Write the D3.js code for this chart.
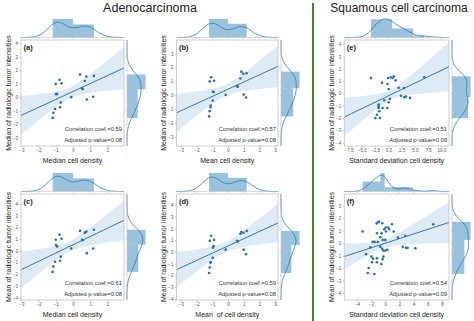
<!DOCTYPE html>
<html>
<head>
<meta charset="utf-8">
<script src="https://cdn.jsdelivr.net/npm/d3@7"></script>
<style>
body { margin: 0; background: #fff; }
text { font-family: "Liberation Sans", Arial, sans-serif; }
</style>
</head>
<body>
<script>
// Adenocarcinoma patients (same order in every array)
var adenoMedianDensity = [0.41, 1.22, 0.78, -0.78, 0.69, -0.66, -1.00, 0.53, 0.57, -0.92, -0.98, 1.18, -0.10, 0.81, -0.71, -0.75, -1.04, -1.14, -1.18];
var adenoMeanDensity = [0.85, 1.19, 0.98, -1.08, 0.79, -0.89, -1.17, 0.57, 0.62, -0.96, -0.92, 1.00, -0.15, 1.15, -0.98, -1.10, -1.12, -1.17, -1.21];
var adenoMedianIntensity = [1.70, 1.59, 1.55, 1.30, 1.21, 1.04, 1.00, 0.67, 0.62, 0.26, 0.24, 0.05, 0.02, -0.16, -0.38, -0.73, -0.86, -1.14, -1.52];
var adenoMeanIntensity = [1.70, 1.80, 1.64, 1.38, 1.55, 1.03, 0.95, 0.95, 0.90, 0.37, 0.50, 0.20, 0.20, -0.20, -0.50, -0.85, -0.93, -1.33, -1.80];

// Squamous cell carcinoma, panel (e)
var sqSdDensityE = [-3.27, -1.19, -0.13, -0.06, 0.44, 0.82, 1.07, 1.38, 0.06, 1.95, 2.96, 6.79, 2.39, 3.02, 3.33, 4.09, 0.31, 0.06, -0.75, -1.82, -1.82, -1.82, -1.07, -0.19, -1.70, -2.14, -2.45, -1.57];
var sqMedianIntensity = [1.26, 0.88, 0.77, 1.26, 1.32, 1.26, 1.40, 1.07, 0.36, 0.47, 0.44, 1.32, -0.19, -0.30, -0.25, -0.36, -0.44, -0.71, -0.55, -0.90, -1.04, -1.18, -1.18, -1.18, -1.45, -1.73, -2.00, -2.00];

// Squamous cell carcinoma, panel (f)
var sqSdDensityF = [-3.20, -1.22, -1.04, -0.42, 0.94, 0.42, 0.05, 0.56, -0.14, 0.09, -1.18, -0.52, 1.18, -0.71, -1.79, -1.51, -1.08, -0.38, 0.00, 1.79, 2.82, 6.78, -2.12, -0.71, -0.28, 0.00, 0.28, 2.45, 2.92, 3.15, 4.24, -2.73, -1.98, -1.74, -1.18, -0.28, -0.38, -1.88, -1.18, -0.56, -2.35, -2.49, -1.55, -0.88, -0.45];
var sqMeanIntensity = [0.94, 1.58, 1.68, 1.60, 1.52, 1.26, 1.26, 1.12, 1.12, 0.94, 0.80, 0.80, 0.94, 0.48, 0.11, 0.11, 0.11, 0.27, 0.27, 0.45, 0.59, 1.52, -0.32, -0.27, -0.59, -0.59, -0.53, -0.29, -0.37, -0.37, -0.40, -0.88, -1.07, -1.23, -1.20, -1.07, -1.28, -1.52, -1.52, -1.66, -1.98, -2.38, -2.46, 1.72, -0.45];

// tick labels
var xTicksMedian = [-3, -2, -1, 0, 1, 2];
var xTicksMean = [-3, -2, -1, 0, 1, 2, 3];
var xTicksSdE = [-7.5, -5, -2.5, 0, 2.5, 5, 7.5, 10];
var xTicksSdF = [-4, -2, 0, 2, 4, 6, 8];
var yTicksA = [-3, -2, -1, 0, 1, 2, 3, 4];
var yTicksB = [-3, -2, -1, 0, 1, 2, 3];
var yTicksLow = [-4, -3, -2, -1, 0, 1, 2, 3, 4];
var yTicksF = [-4, -3, -2, -1, 0, 1, 2, 3];

var coefs = ['0.59', '0.57', '0.61', '0.59', '0.51', '0.54'];
var pvals = ['0.08', '0.08', '0.08', '0.08', '0.09', '0.09'];

var width = 474, height = 321;
var blue = '#1f77b4';

var svg = d3.select('body').append('svg')
	.attr('width', width)
	.attr('height', height);

var cols = [[21, 124], [176.5, 278], [344.3, 449]];
var rows = [[40, 146], [194, 300]];

var panels = [
	{ tag: '(a)', col: 0, row: 0, xs: adenoMedianDensity, ys: adenoMedianIntensity, xDom: [-3.02, 2.97], yDom: [-3.6, 4.25],
		xTicks: xTicksMedian, yTicks: yTicksA, xFmt: 'd', xLabel: 'Median cell density', yLabel: 'Median of radiologic tumor intensities', topCuts: [0], rightCuts: [0.6] },
	{ tag: '(b)', col: 1, row: 0, xs: adenoMeanDensity, ys: adenoMedianIntensity, xDom: [-3.29, 3.19], yDom: [-3.65, 3.98],
		xTicks: xTicksMean, yTicks: yTicksB, xFmt: 'd', xLabel: 'Mean cell density', yLabel: 'Median of radiologic tumor intensities', topCuts: [0], rightCuts: [0.5] },
	{ tag: '(c)', col: 0, row: 1, xs: adenoMedianDensity, ys: adenoMeanIntensity, xDom: [-3.02, 2.97], yDom: [-4.2, 4.85],
		xTicks: xTicksMedian, yTicks: yTicksLow, xFmt: 'd', xLabel: 'Median cell density', yLabel: 'Mean of radiologic tumor intensities', topCuts: [0], rightCuts: [0.53] },
	{ tag: '(d)', col: 1, row: 1, xs: adenoMeanDensity, ys: adenoMeanIntensity, xDom: [-3.29, 3.19], yDom: [-4.1, 4.95],
		xTicks: xTicksMean, yTicks: yTicksLow, xFmt: 'd', xLabel: 'Mean  of cell density', yLabel: 'Mean of radiologic tumor intensities', topCuts: [0], rightCuts: [0.6] },
	{ tag: '(e)', col: 2, row: 0, xs: sqSdDensityE, ys: sqMedianIntensity, xDom: [-8.3, 11.45], yDom: [-4.27, 4.35],
		xTicks: xTicksSdE, yTicks: yTicksLow, xFmt: '.1f', xLabel: 'Standard deviation cell density', yLabel: 'Median of radiologic tumor intensities', topCuts: [0.7, 4.7], rightCuts: [-0.3] },
	{ tag: '(f)', col: 2, row: 1, xs: sqSdDensityF, ys: sqMeanIntensity, xDom: [-5.8, 9.0], yDom: [-4.55, 3.95],
		xTicks: xTicksSdF, yTicks: yTicksF, xFmt: 'd', xLabel: 'Standard deviation cell density', yLabel: 'Mean of radiologic tumor intensities', topCuts: [-0.7, -0.1, 3.9], rightCuts: [0.27] }
];

// gaussian kde, scott bandwidth like seaborn's distplot
function kde(vals, dom) {
	var sorted = vals.slice().sort(d3.ascending);
	var iqr = d3.quantile(sorted, 0.75) - d3.quantile(sorted, 0.25);
	var a = Math.min(d3.deviation(vals), iqr / 1.349);
	var h = 1.059 * a * Math.pow(vals.length, -0.2);
	var grid = d3.range(0, 121).map(function(i) { return dom[0] + (dom[1] - dom[0]) * i / 120; });
	return grid.map(function(g) {
		return [g, d3.mean(vals, function(v) { return Math.exp(-0.5 * Math.pow((g - v) / h, 2)); }) / (h * Math.sqrt(2 * Math.PI))];
	});
}

function histo(vals, cuts) {
	var bins = d3.bin().domain(d3.extent(vals)).thresholds(cuts)(vals);
	return bins.map(function(b) { return { x0: b.x0, x1: b.x1, d: b.length / (vals.length * (b.x1 - b.x0)) }; });
}

panels.forEach(function(p, i) {
	var L = cols[p.col][0], R = cols[p.col][1], T = rows[p.row][0], B = rows[p.row][1];
	var x = d3.scaleLinear().domain(p.xDom).range([L, R]);
	var y = d3.scaleLinear().domain(p.yDom).range([B, T]);
	var g = svg.append('g');

	var clipId = 'clip' + i;
	g.append('clipPath').attr('id', clipId)
		.append('rect').attr('x', L).attr('y', T).attr('width', R - L).attr('height', B - T);

	// regression with 95% band
	var n = p.xs.length;
	var mx = d3.mean(p.xs), my = d3.mean(p.ys);
	var sxx = d3.sum(p.xs, function(v) { return (v - mx) * (v - mx); });
	var sxy = d3.sum(p.xs, function(v, k) { return (v - mx) * (p.ys[k] - my); });
	var slope = sxy / sxx, icpt = my - slope * mx;
	var sres = Math.sqrt(d3.sum(p.xs, function(v, k) { var r = p.ys[k] - (icpt + slope * v); return r * r; }) / (n - 2));
	var tcrit = 1.96 + 2.4 / (n - 2);
	var grid = d3.range(0, 61).map(function(k) { return p.xDom[0] + (p.xDom[1] - p.xDom[0]) * k / 60; });
	var band = grid.map(function(v) {
		var se = sres * Math.sqrt(1 / n + (v - mx) * (v - mx) / sxx);
		var f = icpt + slope * v;
		return { x: v, lo: f - tcrit * se, hi: f + tcrit * se, f: f };
	});

	var inner = g.append('g').attr('clip-path', 'url(#' + clipId + ')');
	inner.append('path')
		.attr('d', d3.area().x(function(d) { return x(d.x); }).y0(function(d) { return y(d.lo); }).y1(function(d) { return y(d.hi); })(band))
		.attr('fill', blue).attr('fill-opacity', 0.15);
	inner.append('path')
		.attr('d', d3.line().x(function(d) { return x(d.x); }).y(function(d) { return y(d.f); })(band))
		.attr('fill', 'none').attr('stroke', '#2a6fa8').attr('stroke-width', 1);
	inner.selectAll('circle').data(p.xs).enter().append('circle')
		.attr('cx', function(d) { return x(d); })
		.attr('cy', function(d, k) { return y(p.ys[k]); })
		.attr('r', 1.3)
		.attr('fill', '#2870a8');

	// frame
	g.append('rect').attr('x', L).attr('y', T).attr('width', R - L).attr('height', B - T)
		.attr('fill', 'none').attr('stroke', '#c4c4c4').attr('stroke-width', 0.8);

	// axes
	var xAxis = g.append('g').attr('transform', 'translate(0,' + B + ')')
		.call(d3.axisBottom(x).tickValues(p.xTicks).tickSize(1.5).tickPadding(1.5).tickFormat(d3.format(p.xFmt)));
	var yAxis = g.append('g').attr('transform', 'translate(' + L + ',0)')
		.call(d3.axisLeft(y).tickValues(p.yTicks).tickSize(1.5).tickPadding(1.5).tickFormat(d3.format('d')));
	[xAxis, yAxis].forEach(function(ax) {
		ax.select('.domain').remove();
		ax.selectAll('line').attr('stroke', '#999').attr('stroke-width', 0.6);
		ax.selectAll('text').attr('font-size', '4.5px').attr('fill', '#555')
			.attr('font-family', '"Liberation Sans", Arial, sans-serif');
	});

	// top marginal
	var tBase = T - 2.5;
	var tBins = histo(p.xs, p.topCuts);
	var tKde = kde(p.xs, p.xDom);
	var tMax = Math.max(d3.max(tBins, function(b) { return b.d; }), d3.max(tKde, function(d) { return d[1]; }));
	var ty = d3.scaleLinear().domain([0, tMax * 1.05]).range([tBase, tBase - 19.5]);
	g.selectAll('.tbar').data(tBins).enter().append('rect')
		.attr('x', function(b) { return x(b.x0); })
		.attr('width', function(b) { return x(b.x1) - x(b.x0); })
		.attr('y', function(b) { return ty(b.d); })
		.attr('height', function(b) { return tBase - ty(b.d); })
		.attr('fill', blue).attr('fill-opacity', 0.45);
	g.append('path')
		.attr('d', d3.line().x(function(d) { return x(d[0]); }).y(function(d) { return ty(d[1]); })(tKde))
		.attr('fill', 'none').attr('stroke', blue).attr('stroke-width', 0.8);
	g.append('line').attr('x1', L).attr('x2', R).attr('y1', tBase).attr('y2', tBase)
		.attr('stroke', '#c4c4c4').attr('stroke-width', 0.6);
	g.selectAll('.ttick').data(p.xTicks).enter().append('line')
		.attr('x1', function(d) { return x(d); }).attr('x2', function(d) { return x(d); })
		.attr('y1', tBase).attr('y2', tBase + 1.5)
		.attr('stroke', '#aaa').attr('stroke-width', 0.5);

	// right marginal
	var rBase = R + 3;
	var rBins = histo(p.ys, p.rightCuts);
	var rKde = kde(p.ys, p.yDom);
	var rMax = Math.max(d3.max(rBins, function(b) { return b.d; }), d3.max(rKde, function(d) { return d[1]; }));
	var rx = d3.scaleLinear().domain([0, rMax * 1.05]).range([rBase, rBase + 19.5]);
	g.selectAll('.rbar').data(rBins).enter().append('rect')
		.attr('x', rBase)
		.attr('width', function(b) { return rx(b.d) - rBase; })
		.attr('y', function(b) { return y(b.x1); })
		.attr('height', function(b) { return y(b.x0) - y(b.x1); })
		.attr('fill', blue).attr('fill-opacity', 0.45);
	g.append('path')
		.attr('d', d3.line().x(function(d) { return rx(d[1]); }).y(function(d) { return y(d[0]); })(rKde))
		.attr('fill', 'none').attr('stroke', blue).attr('stroke-width', 0.8);
	g.append('line').attr('x1', rBase).attr('x2', rBase).attr('y1', T).attr('y2', B)
		.attr('stroke', '#c4c4c4').attr('stroke-width', 0.6);
	g.selectAll('.rtick').data(p.yTicks).enter().append('line')
		.attr('x1', rBase - 1.5).attr('x2', rBase)
		.attr('y1', function(d) { return y(d); }).attr('y2', function(d) { return y(d); })
		.attr('stroke', '#aaa').attr('stroke-width', 0.5);

	// texts
	g.append('text').attr('x', L + 2.5).attr('y', T + 9.5)
		.attr('font-size', '7.5px').attr('font-weight', 'bold').attr('fill', '#222').text(p.tag);
	g.append('text').attr('x', R - 2).attr('y', B - 15.5).attr('text-anchor', 'end')
		.attr('font-size', '5.8px').attr('fill', '#333').text('Correlation coef.=' + coefs[i]);
	g.append('text').attr('x', R - 2).attr('y', B - 4.5).attr('text-anchor', 'end')
		.attr('font-size', '5.8px').attr('fill', '#333').text('Adjusted p-value=' + pvals[i]);
	g.append('text').attr('x', (L + R) / 2).attr('y', B + 17)
		.attr('text-anchor', 'middle').attr('font-size', '7px').attr('fill', '#222')
		.style('white-space', 'pre').text(p.xLabel);
	g.append('text')
		.attr('transform', 'translate(' + (L - 12.5) + ',' + ((T + B) / 2) + ') rotate(-90)')
		.attr('text-anchor', 'middle').attr('dy', '0.35em')
		.attr('font-size', '7px').attr('fill', '#222').text(p.yLabel);
});

// group titles and divider
svg.append('text').attr('x', 150).attr('y', 11.5).attr('text-anchor', 'middle')
	.attr('font-size', '12.5px').attr('fill', '#222').text('Adenocarcinoma');
svg.append('text').attr('x', 399).attr('y', 11.5).attr('text-anchor', 'middle')
	.attr('font-size', '12px').attr('fill', '#222').text('Squamous cell carcinoma');
svg.append('line').attr('x1', 313).attr('x2', 313).attr('y1', 3).attr('y2', 321)
	.attr('stroke', '#3a8a2a').attr('stroke-width', 2);
</script>
</body>
</html>
